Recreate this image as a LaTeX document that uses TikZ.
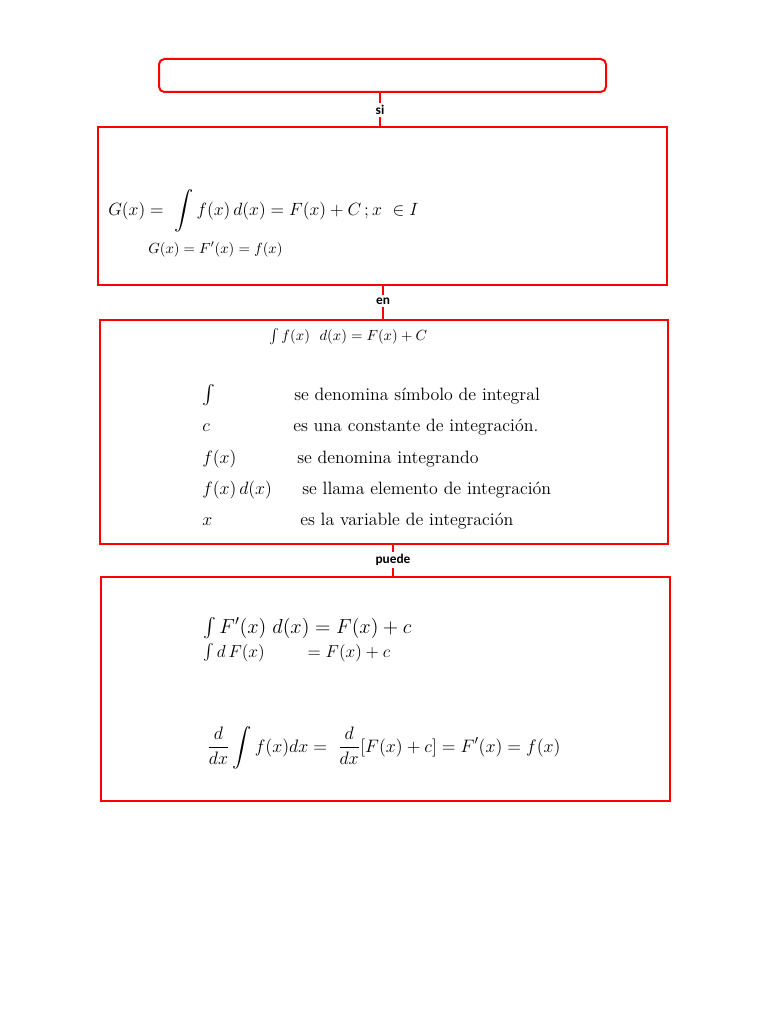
\RequirePackage{fix-cm}
\documentclass[tikz,border=0pt]{standalone}
\usepackage{amsmath}
\usepackage{fontspec}
\newfontfamily\labfont{Carlito}
\usetikzlibrary{fit}
\begin{document}
\begin{tikzpicture}[x=0.75pt,y=-0.75pt,
  box/.style={draw=red, line width=1.5pt, inner sep=0pt},
  lab/.style={fill=white, font=\labfont\bfseries\fontsize{10}{12}\selectfont, inner sep=1.5pt},
  txt/.style={anchor=base west, inner sep=0pt},
  body/.style={txt, font=\fontsize{13.4}{16}\selectfont},
  conn/.style={draw=red, line width=1.5pt}]
\useasboundingbox (0,0) rectangle (768,1024);
% boxes
\node[box, rounded corners=4pt, fit={(159,59)(606,92)}] (b1) {};
\node[box, fit={(98,127)(667,285)}] (b2) {};
\node[box, fit={(100,320)(668,544)}] (b3) {};
\node[box, fit={(101,577)(670,801)}] (b4) {};
% labels
\node[lab] (l1) at (380,110) {si};
\node[lab] (l2) at (383,301) {en};
\node[lab] (l3) at (393,560) {puede};
% connectors
\draw[conn] (b1.south -| l1) -- (l1);
\draw[conn] (l1) -- (b2.north -| l1);
\draw[conn] (b2.south -| l2) -- (l2);
\draw[conn] (l2) -- (b3.north -| l2);
\draw[conn] (b3.south -| l3) -- (l3);
\draw[conn] (l3) -- (b4.north -| l3);
% box 2
\node[txt, font=\fontsize{13.3}{16}\selectfont] (f1) at (108,215) {$\displaystyle G(x) =\ \int f(x)\,d(x) = F(x) + C\,; x\ \in I$};
\node[txt, font=\fontsize{11}{13}\selectfont] (f2) at (148,253) {$G(x) = F'(x) = f(x)$};
% box 3
\node[txt, font=\fontsize{11}{13}\selectfont] (f3) at (269,340) {$\int f(x)\ \ d(x) = F(x) + C$};
\node[body] (s1) at (202,400) {$\int$};
\node[body] (d1) at (294,400) {se denomina símbolo de integral};
\node[body] (s2) at (202,431) {$c$};
\node[body] (d2) at (293,431) {es una constante de integración.};
\node[body] (s3) at (202,463) {$f(x)$};
\node[body] (d3) at (297,463) {se denomina integrando};
\node[body] (s4) at (202,494) {$f(x)\,d(x)$};
\node[body] (d4) at (302,494) {se llama elemento de integración};
\node[body] (s5) at (202,525) {$x$};
\node[body] (d5) at (300,525) {es la variable de integración};
% box 4
\node[txt, font=\fontsize{15.2}{18}\selectfont] (g1) at (203,633) {$\int F'(x)\ d(x) = F(x) + c$};
\node[txt, font=\fontsize{13}{16}\selectfont] (g2) at (203,657) {$\int d\,F(x)\hspace{2.2em}= F(x) + c$};
\node[txt, font=\fontsize{13.5}{16}\selectfont] (g3) at (207,752) {$\displaystyle \frac{d}{dx}\int f(x)dx =\ \frac{d}{dx}[F(x) + c] = F'(x) = f(x)$};
\end{tikzpicture}
\end{document}
